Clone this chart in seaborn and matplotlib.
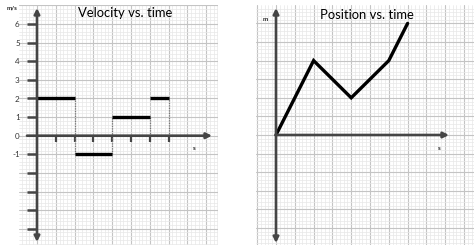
import numpy as np
import pandas as pd
import matplotlib
matplotlib.use("Agg")
import matplotlib.pyplot as plt
import seaborn as sns

# ---------------- data ----------------
seg_start = [0, 2, 4, 6]          # s
seg_end = [2, 4, 6, 7]            # s
velocity = [2, -1, 1, 2]          # m/s

pos_time = [0, 2, 4, 6, 7]        # s
position = [0, 4, 2, 4, 6]        # m

vel_tick_values = list(range(-5, 8))
vel_tick_labels = ["", "", "", "", "-1", "0", "1", "2", "3", "4", "5", "6", ""]
time_ticks = [1, 2, 3, 4, 5, 6, 7]

title_left = "Velocity vs. time"
title_right = "Position vs. time"
unit_v = "m/s"
unit_x = "m"
unit_t = "s"

# ---------------- style ----------------
sns.set_style("white")
plt.rcParams["font.family"] = ["Lato", "DejaVu Sans"]

W, H = 474, 249
fig = plt.figure(figsize=(W / 100, H / 100), dpi=100)

AX_COL = "#454545"
MAJ = "#c4c4c4"
MIN = "#e8e8e8"


def px_axes(x0, x1, y0, y1):
    return fig.add_axes([x0 / W, (H - y1) / H, (x1 - x0) / W, (y1 - y0) / H])


def setup_grid(ax, xlim, ylim):
    ax.set_xlim(*xlim)
    ax.set_ylim(*ylim)
    for s in ax.spines.values():
        s.set_visible(False)
    ax.set_xticks(np.arange(np.ceil(xlim[0]), xlim[1] + 0.001, 1))
    ax.set_xticks(np.arange(np.ceil(xlim[0] * 5) / 5, xlim[1], 0.2), minor=True)
    ax.set_yticks(np.arange(np.ceil(ylim[0]), ylim[1] + 0.001, 1))
    ax.set_yticks(np.arange(np.ceil(ylim[0] * 5) / 5, ylim[1], 0.2), minor=True)
    ax.grid(True, which="major", color=MAJ, lw=0.8)
    ax.grid(True, which="minor", color=MIN, lw=0.5)
    ax.set_axisbelow(True)
    ax.tick_params(which="both", length=0, labelbottom=False, labelleft=False)


ARW = dict(color=AX_COL, lw=1.9, mutation_scale=8, shrinkA=0, shrinkB=0)

# ---------------- left: velocity ----------------
uxL, uyL = 18.8, 18.6
oxL, oyL = 37, 135.7
xl = ((19 - oxL) / uxL, (218 - oxL) / uxL)
yl = ((oyL - 245) / uyL, (oyL - 5) / uyL)
axL = px_axes(19, 218, 5, 245)
setup_grid(axL, xl, yl)
axL.set_yticks(vel_tick_values)
axL.set_yticklabels(vel_tick_labels)
axL.tick_params(axis="y", labelleft=True, pad=-0.5, labelsize=5.8, labelcolor="#333333")

# axes with arrows
axL.annotate("", xy=(0, (oyL - 8) / uyL), xytext=(0, (oyL - 242) / uyL),
             arrowprops=dict(arrowstyle="<|-|>", **ARW))
axL.annotate("", xy=((212 - oxL) / uxL, 0), xytext=((27 - oxL) / uxL, 0),
             arrowprops=dict(arrowstyle="-|>", **ARW))
# tick marks
ytm = [v for v in vel_tick_values if v != 0 and v <= 6]
axL.hlines(ytm, (27 - oxL) / uxL, 0, color=AX_COL, lw=1.8)
axL.vlines(time_ticks, 0, -6.5 / uyL, color=AX_COL, lw=1.6)

# dotted drop lines at segment ends
for i, (te, v) in enumerate(zip(seg_end, velocity)):
    lo, hi = min(0, v), max(0, v)
    if i + 1 < len(velocity) and np.sign(velocity[i + 1]) != np.sign(v):
        lo, hi = min(lo, velocity[i + 1]), max(hi, velocity[i + 1])
    axL.vlines(te, lo, hi, color="#777777", lw=0.9, linestyles=(0, (1, 1)))

vel_df = pd.DataFrame({
    "t": [t for pair in zip(seg_start, seg_end) for t in pair],
    "v": [v for v in velocity for _ in range(2)],
    "seg": [i for i in range(len(velocity)) for _ in range(2)],
})
sns.lineplot(data=vel_df, x="t", y="v", units="seg", estimator=None,
             color="black", lw=2.4, ax=axL, solid_capstyle="butt")
axL.set_xlabel("")
axL.set_ylabel("")

fig.text(125 / W, 1 - 13 / H, title_left, ha="center", va="center", fontsize=9.4, color="black")
fig.text(12 / W, 1 - 8 / H, unit_v, ha="center", va="center", fontsize=4.5, color="#222222", weight="bold")
fig.text(194 / W, 1 - 148 / H, unit_t, ha="center", va="center", fontsize=4.5, color="#222222", weight="bold")

# ---------------- right: position ----------------
uxR, uyR = 18.8, 18.6
oxR, oyR = 276, 135
xr = ((256 - oxR) / uxR, (474 - oxR) / uxR)
yr = ((oyR - 245) / uyR, (oyR - 5) / uyR)
axR = px_axes(256, 474, 5, 245)
setup_grid(axR, xr, yr)

axR.annotate("", xy=(0, (oyR - 8) / uyR), xytext=(0, (oyR - 243) / uyR),
             arrowprops=dict(arrowstyle="<|-|>", **ARW))
axR.annotate("", xy=((449 - oxR) / uxR, 0), xytext=(0, 0),
             arrowprops=dict(arrowstyle="-|>", **ARW))

pos_df = pd.DataFrame({"t": pos_time, "x": position})
sns.lineplot(data=pos_df, x="t", y="x", color="black", lw=2.4, ax=axR,
             solid_joinstyle="miter")
axR.set_xlabel("")
axR.set_ylabel("")

fig.text(367 / W, 1 - 15 / H, title_right, ha="center", va="center", fontsize=9.4, color="black")
fig.text(265 / W, 1 - 19 / H, unit_x, ha="center", va="center", fontsize=4.5, color="#222222", weight="bold")
fig.text(439 / W, 1 - 148 / H, unit_t, ha="center", va="center", fontsize=4.5, color="#222222", weight="bold")

fig.savefig("out.png", dpi=100, facecolor="white")
